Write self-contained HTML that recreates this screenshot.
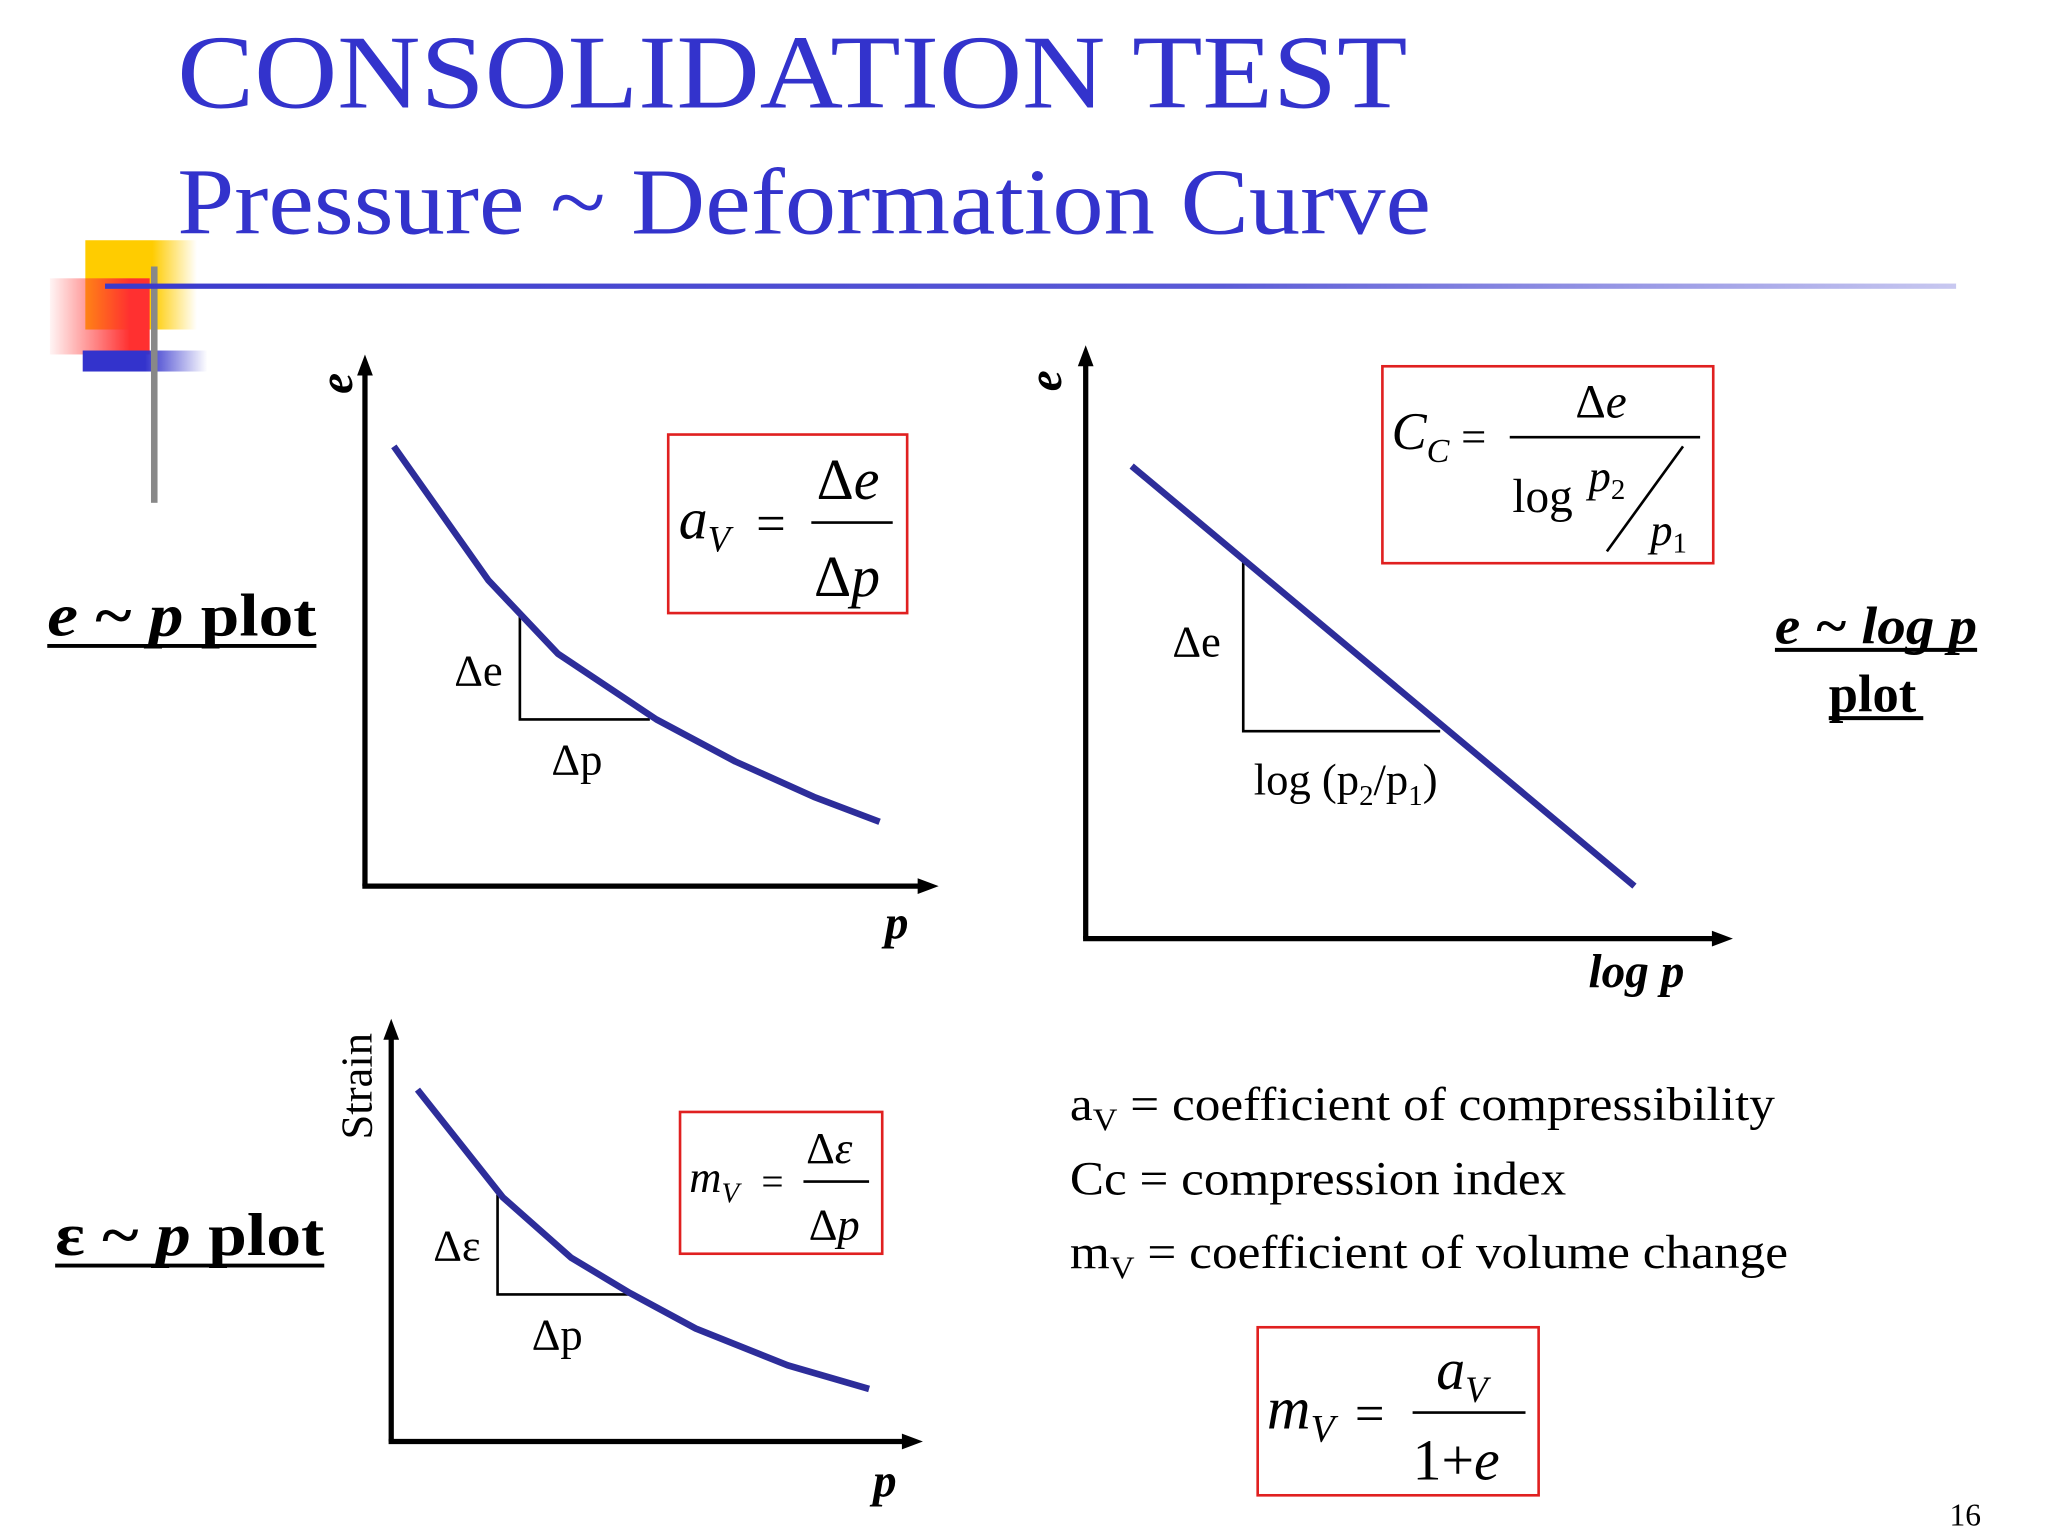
<!DOCTYPE html>
<html><head><meta charset="utf-8"><style>
html,body{margin:0;padding:0;background:#fff;}
svg{display:block;}
text{font-family:"Liberation Serif",serif;}
</style></head><body>
<svg id="s" width="2048" height="1536" viewBox="0 0 1560 1170" xmlns="http://www.w3.org/2000/svg">
<defs>
<linearGradient id="hl" x1="0" x2="1" y1="0" y2="0"><stop offset="0" stop-color="#3a3acc"/><stop offset="0.6" stop-color="#5a5ad6"/><stop offset="1" stop-color="#c8c8f0"/></linearGradient>
<linearGradient id="bl" x1="0" x2="1"><stop offset="0.5" stop-color="#3333cc"/><stop offset="1" stop-color="#3333cc" stop-opacity="0"/></linearGradient>
<linearGradient id="rd" x1="1" x2="0"><stop offset="0.2" stop-color="#ff3030"/><stop offset="1" stop-color="#ff3030" stop-opacity="0.05"/></linearGradient>
<linearGradient id="yl" x1="0" x2="1"><stop offset="0.6" stop-color="#ffcc00"/><stop offset="1" stop-color="#ffcc00" stop-opacity="0"/></linearGradient>
</defs>
<g>
<rect x="65" y="183" width="85" height="68" fill="url(#yl)"/>
<rect x="38" y="212" width="76" height="58" fill="url(#rd)"/>
<rect x="63" y="267" width="95" height="16" fill="url(#bl)"/>
<rect x="115" y="203" width="5" height="180" fill="#888"/>
<rect x="80" y="216" width="1410" height="4" fill="url(#hl)"/>
</g>
<text x="135" y="82" font-size="80" fill="#3333cc" textLength="937" lengthAdjust="spacingAndGlyphs">CONSOLIDATION TEST</text>
<text x="135" y="178" font-size="72" fill="#3333cc" textLength="955" lengthAdjust="spacingAndGlyphs">Pressure ~ Deformation Curve</text>

<g id="axes" fill="none" stroke="#000" stroke-width="4">
<path d="M278 675 V280"/>
<path d="M276 675 H705"/>
<path d="M827 715 V273"/>
<path d="M825 715 H1310"/>
<path d="M298 1098 V786"/>
<path d="M296 1098 H693"/>
</g>
<g fill="#000">
<path d="M278 270 L272 286 L284 286Z"/><path d="M715 675 L699 669 L699 681Z"/>
<path d="M827 263 L821 279 L833 279Z"/><path d="M1320 715 L1304 709 L1304 721Z"/>
<path d="M298 776 L292 792 L304 792Z"/><path d="M703 1098 L687 1092 L687 1104Z"/>
</g>
<g fill="none" stroke="#000" stroke-width="2">
<path d="M396 470 V548 H495"/>
<path d="M947 428 V557 H1097"/>
<path d="M379 910 V986 H480"/>
</g>
<g id="curves"></g>

<g font-size="34">
<text x="346" y="522">Δe</text><text x="420" y="590">Δp</text>
<text x="893" y="500">Δe</text>
<text x="955" y="605">log (p<tspan font-size="22" dy="8">2</tspan><tspan dy="-8">/p</tspan><tspan font-size="22" dy="8">1</tspan><tspan dy="-8">)</tspan></text>
<text x="330" y="960">Δε</text><text x="405" y="1028">Δp</text>
</g>
<g font-size="36" font-weight="bold" font-style="italic">
<text transform="translate(268,300) rotate(-90)">e</text>
<text x="674" y="715">p</text>
<text transform="translate(808,298) rotate(-90)">e</text>
<text x="1210" y="752">log p</text>
<text x="665" y="1140">p</text>
</g>
<text font-size="34" transform="translate(283,868) rotate(-90)">Strain</text>

<g>
<rect x="509" y="331" width="182" height="136" fill="none" stroke="#e02020" stroke-width="2"/>
<text x="517" y="410" font-size="44" font-style="italic">a<tspan font-size="28" dy="10">V</tspan></text>
<text x="576" y="412" font-size="40">=</text>
<text x="622" y="380" font-size="44">Δ<tspan font-style="italic">e</tspan></text>
<line x1="618" y1="398" x2="680" y2="398" stroke="#000" stroke-width="2"/>
<text x="620" y="454" font-size="44">Δ<tspan font-style="italic">p</tspan></text>
</g>
<g>
<rect x="1053" y="279" width="252" height="150" fill="none" stroke="#e02020" stroke-width="2"/>
<text x="1060" y="342" font-size="40" font-style="italic">C<tspan font-size="26" dy="10">C</tspan></text>
<text x="1113" y="344" font-size="34">=</text>
<text x="1200" y="318" font-size="36">Δ<tspan font-style="italic">e</tspan></text>
<line x1="1150" y1="333" x2="1295" y2="333" stroke="#000" stroke-width="2"/>
<text x="1152" y="390" font-size="36">log</text>
<text x="1210" y="374" font-size="34" font-style="italic">p<tspan font-size="22" font-style="normal" dy="6">2</tspan></text>
<line x1="1282" y1="340" x2="1224" y2="420" stroke="#000" stroke-width="2"/>
<text x="1257" y="415" font-size="34" font-style="italic">p<tspan font-size="22" font-style="normal" dy="6">1</tspan></text>
</g>
<g>
<rect x="518" y="847" width="154" height="108" fill="none" stroke="#e02020" stroke-width="2"/>
<text x="525" y="908" font-size="34" font-style="italic">m<tspan font-size="22" dy="8">V</tspan></text>
<text x="580" y="910" font-size="30">=</text>
<text x="614" y="886" font-size="34">Δ<tspan font-style="italic">ε</tspan></text>
<line x1="612" y1="900" x2="662" y2="900" stroke="#000" stroke-width="2"/>
<text x="616" y="944" font-size="34">Δ<tspan font-style="italic">p</tspan></text>
</g>
<g>
<rect x="958" y="1011" width="214" height="128" fill="none" stroke="#e02020" stroke-width="2"/>
<text x="965" y="1088" font-size="46" font-style="italic">m<tspan font-size="30" dy="10">V</tspan></text>
<text x="1032" y="1090" font-size="40">=</text>
<text x="1094" y="1058" font-size="44" font-style="italic">a<tspan font-size="28" dy="10">V</tspan></text>
<line x1="1076" y1="1076" x2="1162" y2="1076" stroke="#000" stroke-width="2"/>
<text x="1076" y="1127" font-size="44">1+<tspan font-style="italic">e</tspan></text>
</g>

<g font-size="46" font-weight="bold">
<text x="36" y="484" textLength="205" lengthAdjust="spacingAndGlyphs"><tspan font-style="italic">e</tspan> ~ <tspan font-style="italic">p</tspan> plot</text>
<text x="1352" y="490" textLength="154" lengthAdjust="spacingAndGlyphs" font-size="40"><tspan font-style="italic">e ~ log p</tspan></text>
<text x="1393" y="542" font-size="40">plot</text>
<text x="42" y="956" textLength="205" lengthAdjust="spacingAndGlyphs">ε ~ <tspan font-style="italic">p</tspan> plot</text>
</g>
<g stroke="#000" stroke-width="3">
<line x1="36" y1="492" x2="241" y2="492"/>
<line x1="1352" y1="495" x2="1506" y2="495"/>
<line x1="1393" y1="547" x2="1465" y2="547"/>
<line x1="42" y1="964" x2="247" y2="964"/>
</g>
<g font-size="36">
<text x="815" y="853" textLength="537" lengthAdjust="spacingAndGlyphs">a<tspan font-size="24" dy="8">V</tspan><tspan dy="-8"> = coefficient of compressibility</tspan></text>
<text x="815" y="910" textLength="378" lengthAdjust="spacingAndGlyphs">Cc = compression index</text>
<text x="815" y="966" textLength="547" lengthAdjust="spacingAndGlyphs">m<tspan font-size="24" dy="8">V</tspan><tspan dy="-8"> = coefficient of volume change</tspan></text>
</g>
<text x="1485" y="1162" font-size="24">16</text>
</svg>
<script>
const epX=[300,372,425,500,560,620,670];
const epY=[340,442,498,548,580,607,626];
const logX=[862,1245];
const logY=[355,675];
const stX=[318,383,435,480,530,600,662];
const stY=[830,912,958,985,1012,1040,1058];
const g=document.getElementById('curves');
function draw(xs,ys,name){
  const p=document.createElementNS('http://www.w3.org/2000/svg','polyline');
  p.setAttribute('points',xs.map((x,i)=>x+','+ys[i]).join(' '));
  p.setAttribute('fill','none');p.setAttribute('stroke','#2d2d9a');
  p.setAttribute('stroke-width','5');p.setAttribute('stroke-linejoin','round');
  
  
  g.appendChild(p);
}
draw(epX,epY,'ep-curve');
draw(logX,logY,'elogp-line');
draw(stX,stY,'strain-curve');
</script>
</body></html>
